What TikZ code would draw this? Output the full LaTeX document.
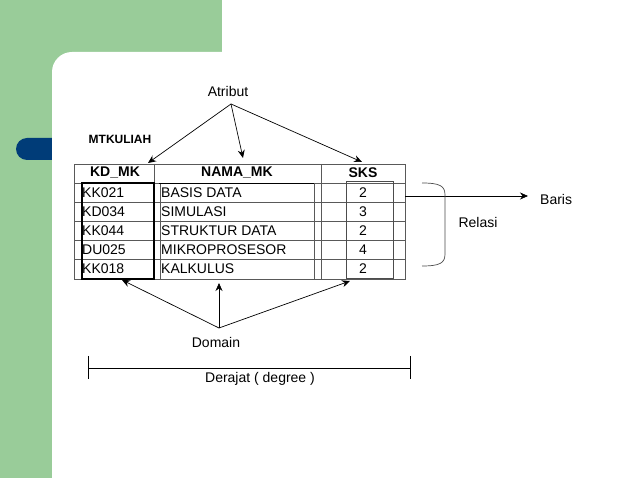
\documentclass[tikz,border=0pt]{standalone}
\usepackage{fontspec}
\setmainfont{Liberation Sans}
\usetikzlibrary{arrows.meta}
\definecolor{grn}{HTML}{99CC99}
\definecolor{navy}{HTML}{003C78}
\begin{document}
\begin{tikzpicture}[x=1pt,y=-1pt,
  lbl/.style={inner sep=0pt,font=\fontsize{14}{16}\selectfont},
  cell/.style={inner sep=0pt,anchor=west,font=\fontsize{14}{16}\selectfont},
  hdr/.style={inner sep=0pt,font=\bfseries\fontsize{14}{16}\selectfont},
  arr/.style={-{Stealth[length=8pt,width=7pt]},line width=0.7pt}]
\useasboundingbox (0,0) rectangle (638,478);
\fill[white] (0,0) rectangle (638,478);
\fill[grn] (0,0) rectangle (222,52);
\fill[grn] (0,0) rectangle (52,478);
\fill[grn] (52,52) rectangle (80,80);
\fill[navy,rounded corners=11pt] (16,138) rectangle (80,160);
\fill[white,rounded corners=20pt] (52,52) rectangle (700,540);
% table
\draw[gray!70!black,line width=0.6pt] (74,164) rectangle (405,279);
\foreach \y in {183,202,221,240,259} \draw[gray!70!black,line width=0.6pt] (74,\y) -- (405,\y);
\draw[gray!70!black,line width=0.6pt] (154,164) -- (154,279) (321,164) -- (321,279) (314,183)--(314,279) (160,183)--(160,279);
\draw[black,line width=1.1pt] (82,183) rectangle (154,279);
\draw[black,line width=0.7pt] (159,183) -- (314,183);
\draw[gray!60!black,line width=0.8pt] (346,181) rectangle (393,278);
\node[hdr] (h1) at (115,173) {KD\_MK};
\node[hdr] (h2) at (237,173) {NAMA\_MK};
\node[hdr] (h3) at (363,173) {SKS};
\foreach \i/\a/\b/\c in {0/KK021/BASIS DATA/2,1/KD034/SIMULASI/3,2/KK044/STRUKTUR DATA/2,3/DU025/MIKROPROSESOR/4,4/KK018/KALKULUS/2}{
  \node[cell] (k\i) at (82,192.5+19*\i) {\a};
  \node[cell] (n\i) at (161,192.5+19*\i) {\b};
  \node[lbl] (s\i) at (363,192.5+19*\i) {\c};
}
\node[inner sep=0pt,font=\bfseries\fontsize{12}{14}\selectfont] (mt) at (120,139) {MTKULIAH};
\node[lbl] (atr) at (228,91) {Atribut};
\coordinate (a0) at (231,104);
\coordinate (t1) at (148,163); \coordinate (t2) at (243,158); \coordinate (t3) at (362,162);
\draw[arr] (a0) -- (t1); \draw[arr] (a0) -- (t2); \draw[arr] (a0) -- (t3);
\node[lbl] (dom) at (216,342) {Domain};
\coordinate (d0) at (219,328);
\coordinate (b1) at (122,280); \coordinate (b2) at (219,283); \coordinate (b3) at (350,281);
\draw[arr] (d0) -- (b1); \draw[arr] (d0) -- (b2); \draw[arr] (d0) -- (b3);
\coordinate (r0) at (405,196); \coordinate (r1) at (528,196);
\draw[arr] (r0) -- (r1);
\node[lbl,anchor=west] (bar) at (540,199) {Baris};
\draw[gray!60!black,line width=0.7pt] (422,183) .. controls (440,183) and (445,186) .. (445,195) -- (445,254) .. controls (445,263) and (440,266) .. (422,266);
\node[lbl] (rel) at (478,222) {Relasi};
\draw[line width=0.6pt] (88,368) -- (410,368) (88,356) -- (88,379) (410,356) -- (410,379);
\node[lbl] (der) at (260,379) {Derajat ( degree )};
\end{tikzpicture}
\end{document}
